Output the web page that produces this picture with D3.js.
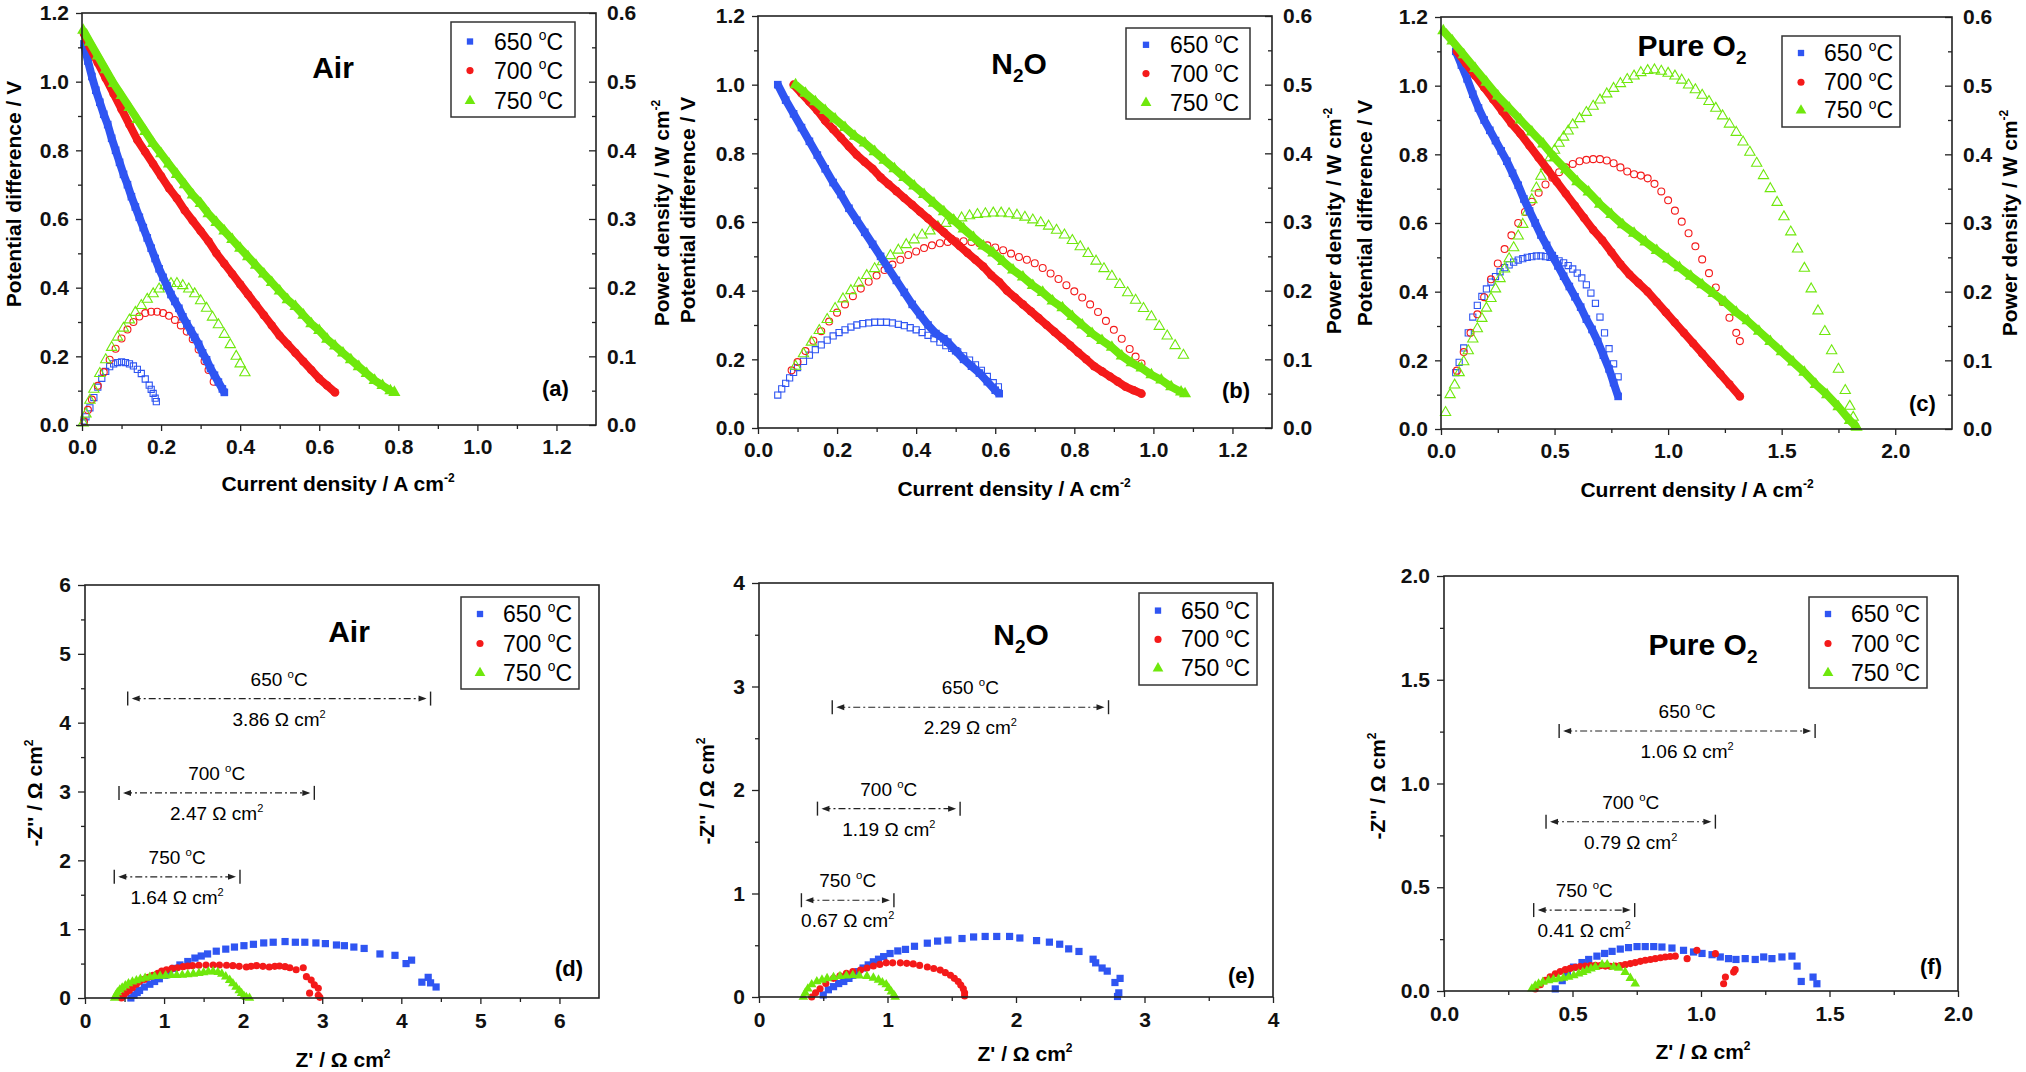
<!DOCTYPE html>
<html>
<head>
<meta charset="utf-8">
<script src="https://cdn.jsdelivr.net/npm/d3@7"></script>
<style>
  body { margin: 0; background: #fff; }
</style>
</head>
<body>
<svg id="fig" width="2026" height="1072"></svg>
<script>
// ---- data: current density (A cm-2) vs potential (V) / power density (W cm-2) ----
const temps = ['650', '700', '750'];

const airV650 = [[0.005,1.11],[0.015,1.06],[0.025,1.015],[0.035,0.975],[0.045,0.94],[0.055,0.905],[0.065,0.875],[0.075,0.835],[0.085,0.8],[0.095,0.765],[0.105,0.73],[0.115,0.7],[0.125,0.665],[0.135,0.635],[0.145,0.605],[0.155,0.575],[0.165,0.545],[0.175,0.515],[0.185,0.485],[0.195,0.455],[0.205,0.43],[0.215,0.405],[0.225,0.38],[0.235,0.36],[0.245,0.34],[0.255,0.315],[0.265,0.295],[0.275,0.275],[0.285,0.255],[0.295,0.235],[0.305,0.21],[0.315,0.19],[0.325,0.165],[0.335,0.145],[0.345,0.125],[0.355,0.105],[0.36,0.095]];
const airV700 = [[0.005,1.14],[0.02,1.1],[0.04,1.055],[0.06,1.01],[0.08,0.965],[0.1,0.92],[0.12,0.875],[0.14,0.83],[0.16,0.795],[0.18,0.76],[0.2,0.725],[0.22,0.69],[0.24,0.66],[0.26,0.625],[0.28,0.595],[0.3,0.565],[0.32,0.535],[0.34,0.5],[0.36,0.47],[0.38,0.44],[0.4,0.41],[0.42,0.38],[0.44,0.35],[0.46,0.32],[0.48,0.29],[0.5,0.26],[0.52,0.235],[0.54,0.21],[0.56,0.185],[0.58,0.16],[0.6,0.135],[0.62,0.115],[0.64,0.095]];
const airV750 = [[0.003,1.15],[0.02,1.115],[0.04,1.075],[0.06,1.035],[0.08,0.995],[0.1,0.96],[0.12,0.925],[0.14,0.89],[0.16,0.855],[0.18,0.82],[0.2,0.79],[0.22,0.76],[0.24,0.73],[0.26,0.7],[0.28,0.67],[0.3,0.645],[0.32,0.615],[0.34,0.59],[0.36,0.565],[0.38,0.54],[0.4,0.515],[0.42,0.49],[0.44,0.465],[0.46,0.44],[0.48,0.415],[0.5,0.39],[0.52,0.365],[0.54,0.345],[0.56,0.32],[0.58,0.295],[0.6,0.275],[0.62,0.25],[0.64,0.23],[0.66,0.21],[0.68,0.19],[0.7,0.17],[0.72,0.15],[0.74,0.13],[0.76,0.115],[0.78,0.1],[0.79,0.095]];
const airP650 = [[0.005,0.006],[0.01,0.012],[0.02,0.025],[0.03,0.04],[0.04,0.055],[0.05,0.068],[0.06,0.078],[0.07,0.085],[0.08,0.089],[0.09,0.091],[0.1,0.092],[0.11,0.091],[0.12,0.089],[0.13,0.086],[0.14,0.081],[0.15,0.075],[0.16,0.067],[0.17,0.058],[0.175,0.052],[0.18,0.046],[0.185,0.039],[0.188,0.034]];
const airP700 = [[0.005,0.005],[0.015,0.022],[0.025,0.037],[0.04,0.057],[0.055,0.077],[0.07,0.095],[0.085,0.111],[0.1,0.126],[0.115,0.139],[0.13,0.15],[0.145,0.158],[0.16,0.163],[0.175,0.165],[0.19,0.165],[0.205,0.163],[0.22,0.159],[0.235,0.153],[0.25,0.145],[0.265,0.136],[0.28,0.125],[0.295,0.11],[0.31,0.093],[0.32,0.08],[0.333,0.063]];
const airP750 = [[0.003,0.003],[0.01,0.016],[0.02,0.036],[0.03,0.052],[0.045,0.075],[0.06,0.095],[0.075,0.113],[0.09,0.128],[0.105,0.141],[0.12,0.153],[0.135,0.164],[0.15,0.174],[0.165,0.183],[0.18,0.191],[0.195,0.198],[0.21,0.203],[0.225,0.206],[0.24,0.206],[0.255,0.203],[0.27,0.198],[0.285,0.191],[0.3,0.181],[0.315,0.17],[0.33,0.157],[0.345,0.146],[0.36,0.132],[0.375,0.117],[0.39,0.1],[0.4,0.089],[0.412,0.076]];

const n2oV650 = [[0.05,1.0],[0.07,0.955],[0.09,0.915],[0.11,0.875],[0.13,0.835],[0.15,0.795],[0.17,0.755],[0.19,0.715],[0.21,0.68],[0.23,0.64],[0.25,0.605],[0.27,0.57],[0.29,0.535],[0.31,0.5],[0.33,0.465],[0.35,0.43],[0.37,0.395],[0.39,0.36],[0.41,0.33],[0.43,0.3],[0.45,0.275],[0.47,0.26],[0.48,0.25],[0.5,0.225],[0.52,0.2],[0.54,0.18],[0.56,0.16],[0.58,0.135],[0.6,0.11],[0.61,0.1]];
const n2oV700 = [[0.09,1.0],[0.11,0.975],[0.13,0.95],[0.15,0.925],[0.17,0.895],[0.19,0.87],[0.21,0.845],[0.23,0.82],[0.25,0.795],[0.27,0.775],[0.29,0.755],[0.31,0.73],[0.33,0.71],[0.35,0.69],[0.37,0.67],[0.39,0.65],[0.41,0.63],[0.43,0.61],[0.45,0.59],[0.47,0.57],[0.49,0.55],[0.51,0.53],[0.53,0.51],[0.55,0.49],[0.57,0.47],[0.59,0.445],[0.61,0.425],[0.63,0.4],[0.65,0.38],[0.67,0.36],[0.69,0.34],[0.71,0.32],[0.73,0.3],[0.75,0.28],[0.77,0.26],[0.79,0.24],[0.81,0.22],[0.83,0.2],[0.85,0.18],[0.87,0.165],[0.89,0.15],[0.91,0.135],[0.93,0.12],[0.95,0.11],[0.97,0.1]];
const n2oV750 = [[0.095,1.0],[0.12,0.975],[0.145,0.95],[0.17,0.925],[0.195,0.9],[0.22,0.875],[0.245,0.85],[0.27,0.83],[0.295,0.805],[0.32,0.78],[0.345,0.755],[0.37,0.73],[0.395,0.705],[0.42,0.68],[0.445,0.655],[0.47,0.63],[0.495,0.605],[0.52,0.58],[0.545,0.555],[0.57,0.53],[0.595,0.51],[0.62,0.485],[0.645,0.46],[0.67,0.44],[0.695,0.415],[0.72,0.395],[0.745,0.37],[0.77,0.35],[0.795,0.325],[0.82,0.3],[0.845,0.275],[0.87,0.255],[0.895,0.235],[0.92,0.21],[0.945,0.19],[0.97,0.175],[0.995,0.155],[1.02,0.14],[1.045,0.12],[1.07,0.105],[1.08,0.1]];
const n2oP650 = [[0.05,0.048],[0.06,0.057],[0.07,0.065],[0.08,0.073],[0.09,0.081],[0.1,0.088],[0.115,0.097],[0.13,0.106],[0.145,0.114],[0.16,0.121],[0.175,0.128],[0.19,0.134],[0.205,0.139],[0.22,0.143],[0.235,0.147],[0.25,0.15],[0.265,0.152],[0.28,0.153],[0.295,0.154],[0.31,0.154],[0.325,0.154],[0.34,0.153],[0.355,0.151],[0.37,0.149],[0.385,0.146],[0.4,0.143],[0.415,0.139],[0.43,0.135],[0.445,0.13],[0.46,0.125],[0.475,0.12],[0.49,0.116],[0.505,0.111],[0.52,0.105],[0.535,0.099],[0.55,0.092],[0.565,0.084],[0.58,0.075],[0.595,0.066],[0.608,0.06]];
const n2oP700 = [[0.085,0.084],[0.1,0.096],[0.12,0.112],[0.14,0.127],[0.16,0.141],[0.18,0.155],[0.2,0.168],[0.22,0.18],[0.24,0.192],[0.26,0.203],[0.28,0.213],[0.3,0.222],[0.32,0.23],[0.34,0.238],[0.36,0.245],[0.38,0.252],[0.4,0.257],[0.42,0.262],[0.44,0.266],[0.46,0.269],[0.48,0.271],[0.5,0.272],[0.52,0.272],[0.54,0.271],[0.56,0.269],[0.58,0.266],[0.6,0.263],[0.62,0.259],[0.64,0.254],[0.66,0.249],[0.68,0.245],[0.7,0.24],[0.72,0.233],[0.74,0.225],[0.76,0.217],[0.78,0.208],[0.8,0.199],[0.82,0.19],[0.84,0.18],[0.86,0.169],[0.88,0.156],[0.9,0.143],[0.92,0.13],[0.94,0.115],[0.955,0.104],[0.97,0.094]];
const n2oP750 = [[0.095,0.09],[0.115,0.108],[0.135,0.125],[0.155,0.142],[0.175,0.158],[0.195,0.174],[0.215,0.188],[0.235,0.2],[0.255,0.211],[0.275,0.222],[0.295,0.232],[0.315,0.242],[0.335,0.251],[0.355,0.259],[0.375,0.267],[0.395,0.274],[0.415,0.281],[0.435,0.287],[0.455,0.293],[0.475,0.298],[0.495,0.302],[0.515,0.306],[0.535,0.309],[0.555,0.311],[0.575,0.312],[0.595,0.313],[0.615,0.313],[0.635,0.312],[0.655,0.31],[0.675,0.307],[0.695,0.303],[0.715,0.299],[0.735,0.294],[0.755,0.288],[0.775,0.281],[0.795,0.273],[0.815,0.264],[0.835,0.254],[0.855,0.243],[0.875,0.232],[0.895,0.221],[0.915,0.209],[0.935,0.197],[0.955,0.186],[0.975,0.174],[0.995,0.162],[1.015,0.148],[1.035,0.134],[1.055,0.12],[1.076,0.106]];

const o2V650 = [[0.065,1.1],[0.09,1.06],[0.115,1.02],[0.14,0.975],[0.165,0.935],[0.19,0.9],[0.215,0.87],[0.24,0.84],[0.265,0.81],[0.29,0.78],[0.315,0.745],[0.34,0.71],[0.365,0.67],[0.39,0.635],[0.415,0.6],[0.44,0.565],[0.465,0.535],[0.49,0.505],[0.515,0.475],[0.54,0.445],[0.565,0.415],[0.59,0.385],[0.615,0.355],[0.64,0.32],[0.665,0.29],[0.69,0.255],[0.715,0.215],[0.74,0.175],[0.76,0.135],[0.78,0.095]];
const o2V700 = [[0.07,1.1],[0.11,1.065],[0.15,1.03],[0.19,0.995],[0.23,0.96],[0.27,0.925],[0.31,0.89],[0.35,0.86],[0.39,0.825],[0.43,0.79],[0.47,0.755],[0.51,0.72],[0.55,0.685],[0.59,0.65],[0.63,0.615],[0.67,0.58],[0.71,0.55],[0.75,0.515],[0.79,0.48],[0.83,0.45],[0.87,0.425],[0.91,0.4],[0.95,0.37],[0.99,0.34],[1.03,0.31],[1.07,0.28],[1.11,0.25],[1.15,0.22],[1.19,0.19],[1.23,0.16],[1.27,0.13],[1.316,0.095]];
const o2V750 = [[0.01,1.16],[0.05,1.13],[0.1,1.09],[0.15,1.05],[0.2,1.01],[0.25,0.97],[0.3,0.935],[0.35,0.9],[0.4,0.865],[0.45,0.83],[0.5,0.79],[0.55,0.755],[0.6,0.72],[0.65,0.69],[0.7,0.655],[0.75,0.625],[0.8,0.595],[0.85,0.57],[0.9,0.545],[0.95,0.52],[1.0,0.495],[1.05,0.47],[1.1,0.445],[1.15,0.42],[1.2,0.395],[1.25,0.37],[1.3,0.34],[1.35,0.315],[1.4,0.285],[1.45,0.255],[1.5,0.225],[1.55,0.195],[1.6,0.165],[1.65,0.13],[1.7,0.1],[1.75,0.065],[1.8,0.025],[1.83,0.005]];
const o2P650 = [[0.065,0.082],[0.08,0.097],[0.1,0.118],[0.12,0.14],[0.14,0.163],[0.16,0.18],[0.18,0.193],[0.2,0.204],[0.22,0.214],[0.24,0.222],[0.26,0.229],[0.28,0.235],[0.3,0.239],[0.32,0.243],[0.34,0.246],[0.36,0.248],[0.38,0.25],[0.4,0.251],[0.42,0.252],[0.44,0.252],[0.46,0.251],[0.48,0.25],[0.5,0.248],[0.52,0.245],[0.54,0.242],[0.56,0.238],[0.58,0.233],[0.6,0.227],[0.62,0.22],[0.64,0.21],[0.66,0.198],[0.68,0.183],[0.7,0.163],[0.72,0.14],[0.74,0.117],[0.76,0.095],[0.78,0.076]];
const o2P700 = [[0.07,0.085],[0.1,0.112],[0.13,0.14],[0.16,0.167],[0.19,0.192],[0.22,0.218],[0.25,0.241],[0.28,0.262],[0.31,0.282],[0.34,0.3],[0.37,0.316],[0.4,0.331],[0.43,0.344],[0.46,0.356],[0.49,0.366],[0.52,0.374],[0.55,0.381],[0.58,0.386],[0.61,0.39],[0.64,0.392],[0.67,0.393],[0.7,0.393],[0.73,0.391],[0.76,0.387],[0.79,0.381],[0.82,0.375],[0.85,0.371],[0.88,0.369],[0.91,0.365],[0.94,0.357],[0.97,0.346],[1.0,0.333],[1.03,0.318],[1.06,0.302],[1.09,0.285],[1.12,0.266],[1.15,0.247],[1.18,0.227],[1.21,0.206],[1.24,0.185],[1.27,0.162],[1.3,0.14],[1.316,0.128]];
const o2P750 = [[0.02,0.024],[0.04,0.05],[0.06,0.064],[0.08,0.082],[0.1,0.098],[0.12,0.114],[0.14,0.131],[0.16,0.146],[0.18,0.161],[0.2,0.176],[0.22,0.19],[0.24,0.204],[0.26,0.219],[0.28,0.233],[0.3,0.248],[0.32,0.264],[0.34,0.281],[0.36,0.298],[0.38,0.316],[0.4,0.334],[0.42,0.351],[0.44,0.368],[0.46,0.382],[0.48,0.395],[0.5,0.406],[0.52,0.416],[0.54,0.425],[0.56,0.434],[0.58,0.443],[0.61,0.452],[0.64,0.461],[0.67,0.47],[0.7,0.479],[0.73,0.488],[0.76,0.496],[0.79,0.503],[0.82,0.509],[0.85,0.514],[0.88,0.519],[0.91,0.522],[0.94,0.523],[0.97,0.521],[1.0,0.518],[1.03,0.514],[1.06,0.508],[1.09,0.501],[1.12,0.494],[1.15,0.486],[1.18,0.477],[1.21,0.467],[1.24,0.456],[1.27,0.444],[1.3,0.432],[1.33,0.418],[1.36,0.403],[1.39,0.387],[1.42,0.369],[1.45,0.35],[1.48,0.33],[1.51,0.309],[1.54,0.287],[1.57,0.262],[1.6,0.234],[1.63,0.204],[1.66,0.172],[1.69,0.142],[1.72,0.114],[1.75,0.087],[1.78,0.056],[1.8,0.033],[1.815,0.017],[1.827,0.004]];

// ---- data: impedance, Z' vs -Z'' (ohm cm2) ----
const airZ650 = [[0.58,0.0],[0.62,0.04],[0.66,0.08],[0.69,0.11],[0.75,0.16],[0.82,0.2],[0.88,0.24],[0.94,0.28],[1.01,0.33],[1.07,0.38],[1.13,0.43],[1.2,0.48],[1.3,0.53],[1.39,0.58],[1.47,0.61],[1.55,0.64],[1.66,0.68],[1.78,0.71],[1.89,0.74],[2.01,0.76],[2.13,0.78],[2.26,0.8],[2.38,0.81],[2.53,0.82],[2.66,0.81],[2.78,0.81],[2.92,0.8],[3.04,0.79],[3.18,0.77],[3.28,0.76],[3.4,0.74],[3.53,0.72],[3.73,0.64],[3.92,0.62],[4.06,0.5],[4.13,0.55],[4.26,0.23],[4.34,0.3],[4.37,0.22],[4.44,0.16]];
const airZ700 = [[0.46,0.0],[0.49,0.04],[0.52,0.08],[0.56,0.11],[0.6,0.15],[0.65,0.2],[0.69,0.24],[0.75,0.27],[0.8,0.3],[0.86,0.33],[0.92,0.36],[0.97,0.39],[1.03,0.41],[1.1,0.43],[1.17,0.44],[1.24,0.455],[1.3,0.465],[1.36,0.47],[1.44,0.475],[1.53,0.48],[1.62,0.48],[1.7,0.48],[1.79,0.475],[1.87,0.47],[1.95,0.46],[2.04,0.45],[2.1,0.46],[2.17,0.47],[2.25,0.46],[2.33,0.45],[2.4,0.46],[2.46,0.465],[2.53,0.455],[2.59,0.44],[2.67,0.41],[2.76,0.44],[2.8,0.31],[2.86,0.26],[2.9,0.19],[2.95,0.14],[2.84,0.07],[2.95,0.04],[2.97,0.01]];
const airZ750 = [[0.375,0.0],[0.39,0.04],[0.41,0.08],[0.44,0.12],[0.47,0.15],[0.51,0.18],[0.55,0.21],[0.6,0.235],[0.65,0.255],[0.7,0.275],[0.76,0.29],[0.82,0.305],[0.88,0.315],[0.95,0.32],[1.02,0.325],[1.09,0.33],[1.16,0.33],[1.23,0.335],[1.3,0.34],[1.37,0.35],[1.44,0.36],[1.5,0.37],[1.56,0.38],[1.62,0.385],[1.68,0.375],[1.73,0.35],[1.78,0.31],[1.83,0.26],[1.87,0.21],[1.91,0.16],[1.95,0.11],[1.98,0.07],[2.01,0.03],[2.04,0.01],[2.08,0.0]];
const n2oZ650 = [[0.5,0.02],[0.54,0.07],[0.58,0.1],[0.62,0.13],[0.66,0.15],[0.7,0.18],[0.73,0.21],[0.77,0.245],[0.81,0.28],[0.85,0.31],[0.89,0.34],[0.93,0.365],[0.97,0.39],[1.02,0.42],[1.08,0.445],[1.14,0.46],[1.21,0.49],[1.31,0.52],[1.39,0.54],[1.47,0.55],[1.58,0.565],[1.67,0.58],[1.76,0.585],[1.85,0.585],[1.95,0.585],[2.03,0.57],[2.16,0.545],[2.26,0.53],[2.34,0.51],[2.41,0.465],[2.49,0.44],[2.6,0.365],[2.62,0.33],[2.67,0.28],[2.71,0.25],[2.77,0.14],[2.81,0.18],[2.8,0.04],[2.79,0.005]];
const n2oZ700 = [[0.41,0.0],[0.44,0.04],[0.475,0.08],[0.52,0.13],[0.58,0.18],[0.63,0.205],[0.68,0.23],[0.73,0.245],[0.79,0.26],[0.84,0.28],[0.89,0.3],[0.94,0.315],[0.99,0.33],[1.04,0.33],[1.1,0.33],[1.15,0.325],[1.2,0.32],[1.25,0.305],[1.31,0.29],[1.36,0.275],[1.41,0.26],[1.45,0.235],[1.49,0.21],[1.52,0.18],[1.55,0.15],[1.57,0.115],[1.59,0.08],[1.6,0.04],[1.6,0.01]];
const n2oZ750 = [[0.345,0.0],[0.36,0.04],[0.38,0.08],[0.41,0.12],[0.45,0.15],[0.49,0.165],[0.53,0.18],[0.58,0.19],[0.63,0.2],[0.68,0.205],[0.73,0.21],[0.78,0.205],[0.84,0.2],[0.89,0.185],[0.93,0.165],[0.96,0.14],[0.99,0.12],[1.01,0.085],[1.03,0.05],[1.05,0.02],[1.06,0.0]];
const o2Z650 = [[0.433,0.01],[0.46,0.05],[0.48,0.085],[0.504,0.115],[0.537,0.137],[0.563,0.152],[0.595,0.168],[0.625,0.181],[0.654,0.191],[0.686,0.202],[0.718,0.209],[0.751,0.214],[0.783,0.214],[0.816,0.214],[0.848,0.212],[0.887,0.207],[0.932,0.196],[0.971,0.188],[1.004,0.181],[1.043,0.175],[1.075,0.164],[1.107,0.156],[1.136,0.152],[1.172,0.156],[1.211,0.152],[1.244,0.164],[1.276,0.156],[1.315,0.164],[1.354,0.168],[1.374,0.12],[1.39,0.046],[1.436,0.067],[1.451,0.035]];
const o2Z700 = [[0.355,0.01],[0.375,0.03],[0.394,0.051],[0.413,0.068],[0.433,0.083],[0.452,0.094],[0.472,0.103],[0.491,0.109],[0.511,0.114],[0.53,0.118],[0.55,0.12],[0.57,0.122],[0.589,0.124],[0.608,0.122],[0.628,0.12],[0.647,0.119],[0.667,0.12],[0.686,0.123],[0.705,0.127],[0.725,0.132],[0.744,0.137],[0.764,0.143],[0.783,0.148],[0.803,0.152],[0.822,0.156],[0.842,0.16],[0.861,0.164],[0.88,0.166],[0.9,0.168],[0.946,0.156],[0.984,0.196],[1.056,0.18],[1.133,0.103],[1.127,0.091],[1.095,0.067],[1.088,0.035]];
const o2Z750 = [[0.342,0.011],[0.355,0.025],[0.368,0.035],[0.385,0.043],[0.407,0.051],[0.426,0.055],[0.446,0.059],[0.465,0.063],[0.485,0.067],[0.505,0.075],[0.524,0.083],[0.54,0.091],[0.556,0.099],[0.572,0.107],[0.589,0.115],[0.615,0.127],[0.635,0.128],[0.66,0.116],[0.68,0.111],[0.705,0.091],[0.725,0.062],[0.744,0.035]];

// polarisation-resistance brackets: [Z' start, Z' end, height], with labels
const airBars = [[0.54,4.37,4.35],[0.43,2.90,2.98],[0.37,1.96,1.76]];
const n2oBars = [[0.57,2.72,2.80],[0.455,1.565,1.82],[0.33,1.05,0.935]];
const o2Bars = [[0.448,1.444,1.253],[0.397,1.056,0.816],[0.349,0.742,0.39]];
const airRp = ['3.86', '2.47', '1.64'];
const n2oRp = ['2.29', '1.19', '0.67'];
const o2Rp = ['1.06', '0.79', '0.41'];

// tick values
const vTicks = [0, 0.2, 0.4, 0.6, 0.8, 1.0, 1.2];
const vMinor = [0.1, 0.3, 0.5, 0.7, 0.9, 1.1];
const pTicks = [0, 0.1, 0.2, 0.3, 0.4, 0.5, 0.6];
const pMinor = [0.05, 0.15, 0.25, 0.35, 0.45, 0.55];
const jTicksAB = [0, 0.2, 0.4, 0.6, 0.8, 1.0, 1.2];
const jMinorAB = [0.1, 0.3, 0.5, 0.7, 0.9, 1.1];
const jTicksC = [0, 0.5, 1.0, 1.5, 2.0];
const jMinorC = [0.25, 0.75, 1.25, 1.75];
const zTicksD = [0, 1, 2, 3, 4, 5, 6];
const zMinorD = [0.5, 1.5, 2.5, 3.5, 4.5, 5.5];
const zTicksE = [0, 1, 2, 3, 4];
const zMinorE = [0.5, 1.5, 2.5, 3.5];
const zTicksF = [0, 0.5, 1.0, 1.5, 2.0];
const zMinorF = [0.25, 0.75, 1.25, 1.75];

// ---- drawing ----
const FONT = '"Liberation Sans", Arial, Helvetica, sans-serif';
const svg = d3.select('#fig').attr('font-family', FONT);
const colors = {'650': '#2f55f2', '700': '#f41a1a', '750': '#6fe80c'};
const shapes = {'650': d3.symbolSquare, '700': d3.symbolCircle, '750': d3.symbolTriangle};

function tempLabel(sel, t, fs) {
  sel.text(t + ' ');
  sel.append('tspan').attr('font-size', fs * 0.6).attr('dy', -fs * 0.42).text('o');
  sel.append('tspan').attr('dy', fs * 0.42).text('C');
}

function drawAxis(gen, pos, vals, size, pad, fmt) {
  const g = svg.append('g')
      .attr('transform', pos)
      .call(gen.tickValues(vals).tickSize(size).tickPadding(pad).tickFormat(fmt));
  g.select('.domain').remove();
  g.attr('font-family', FONT).attr('font-size', 21).attr('font-weight', 'bold');
  g.selectAll('line').attr('stroke', '#222').attr('stroke-width', 1.3);
  g.selectAll('text').attr('fill', '#111');
  return g;
}

function markers(g, data, x, y, t, size, open) {
  g.selectAll(null)
      .data(data)
      .enter()
      .append('path')
      .attr('transform', d => `translate(${x(d[0])},${y(d[1])})`)
      .attr('d', d3.symbol(shapes[t], size))
      .attr('fill', open ? 'none' : colors[t])
      .attr('stroke', open ? colors[t] : 'none')
      .attr('stroke-width', 1.1);
}

function band(g, data, x, y, t, w) {
  g.append('path')
      .datum(data)
      .attr('fill', 'none')
      .attr('stroke', colors[t])
      .attr('stroke-width', w)
      .attr('stroke-linejoin', 'round')
      .attr('d', d3.line().x(d => x(d[0])).y(d => y(d[1])));
}

function legend(l) {
  svg.append('rect')
      .attr('x', l.x0).attr('y', l.y0)
      .attr('width', l.x1 - l.x0).attr('height', l.y1 - l.y0)
      .attr('fill', '#fff').attr('stroke', '#333').attr('stroke-width', 1.5);
  temps.forEach((t, i) => {
    svg.append('path')
        .attr('transform', `translate(${l.mx},${l.rows[i]})`)
        .attr('d', d3.symbol(shapes[t], t === '750' ? 50 : 40))
        .attr('fill', colors[t]);
    svg.append('text')
        .attr('x', l.tx).attr('y', l.rows[i] + 8)
        .attr('font-size', 23)
        .call(s => tempLabel(s, t, 23));
  });
}

function nameText(x, y, name) {
  const tx = svg.append('text').attr('x', x).attr('y', y)
      .attr('text-anchor', 'middle').attr('font-size', 30).attr('font-weight', 'bold');
  if (name === 'N2O') {
    tx.append('tspan').text('N');
    tx.append('tspan').attr('font-size', 19).attr('dy', 8).text('2');
    tx.append('tspan').attr('dy', -8).text('O');
  } else if (name === 'O2') {
    tx.append('tspan').text('Pure O');
    tx.append('tspan').attr('font-size', 19).attr('dy', 8).text('2');
  } else {
    tx.text(name);
  }
}

function title(x, y, main, sup, rotate) {
  const tx = svg.append('text')
      .attr('transform', `translate(${x},${y})` + (rotate ? ' rotate(-90)' : ''))
      .attr('text-anchor', 'middle').attr('font-size', 21).attr('font-weight', 'bold')
      .text(main);
  tx.append('tspan').attr('font-size', 12).attr('dy', -9).text(sup);
}

function frame(p) {
  svg.append('rect')
      .attr('x', p.left).attr('y', p.top)
      .attr('width', p.right - p.left).attr('height', p.bottom - p.top)
      .attr('fill', 'none').attr('stroke', '#222').attr('stroke-width', 1.6);
}

function polPanel(p) {
  const x = d3.scaleLinear().domain([0, p.xMax]).range([p.left, p.right]);
  const y = d3.scaleLinear().domain([0, 1.2]).range([p.bottom, p.top]);
  const y2 = d3.scaleLinear().domain([0, 0.6]).range([p.bottom, p.top]);
  const g = svg.append('g');

  p.power.forEach((s, i) => markers(g, s, x, y2, temps[i], i === 2 ? 46 : 38, true));
  p.volt.forEach((s, i) => {
    band(g, s, x, y, temps[i], 8);
    markers(g, s, x, y, temps[i], i === 2 ? 64 : 58, false);
  });

  frame(p);
  const f1 = d3.format('.1f');
  drawAxis(d3.axisBottom(x), `translate(0,${p.bottom})`, p.xTicks, 6, 8, f1);
  drawAxis(d3.axisBottom(x), `translate(0,${p.bottom})`, p.xMinor, 4, 0, () => '');
  drawAxis(d3.axisLeft(y), `translate(${p.left},0)`, vTicks, 6, 7, f1);
  drawAxis(d3.axisLeft(y), `translate(${p.left},0)`, vMinor, 4, 0, () => '');
  drawAxis(d3.axisRight(y2), `translate(${p.right},0)`, pTicks, -7, 11, f1);
  drawAxis(d3.axisRight(y2), `translate(${p.right},0)`, pMinor, -4, 0, () => '');

  legend(p.leg);
  nameText(p.nameX, p.nameY, p.name);
  svg.append('text').attr('x', p.tagX).attr('y', p.tagY)
      .attr('font-size', 22).attr('font-weight', 'bold').text(p.tag);
  title(p.xTitle[0], p.xTitle[1], 'Current density / A cm', '-2', false);
  svg.append('text')
      .attr('transform', `translate(${p.yTitle[0]},${p.yTitle[1]}) rotate(-90)`)
      .attr('text-anchor', 'middle').attr('font-size', 21).attr('font-weight', 'bold')
      .text('Potential difference / V');
  title(p.y2Title[0], p.y2Title[1], 'Power density / W cm', '-2', true);
}

function eisPanel(p) {
  const x = d3.scaleLinear().domain([0, p.xMax]).range([p.left, p.right]);
  const y = d3.scaleLinear().domain([0, p.yMax]).range([p.bottom, p.top]);
  const g = svg.append('g');

  p.series.forEach((s, i) => markers(g, s, x, y, temps[i], i === 0 ? 52 : 40, false));

  frame(p);
  drawAxis(d3.axisBottom(x), `translate(0,${p.bottom})`, p.xTicks, 6, 9, p.fmt);
  drawAxis(d3.axisBottom(x), `translate(0,${p.bottom})`, p.xMinor, 4, 0, () => '');
  drawAxis(d3.axisLeft(y), `translate(${p.left},0)`, p.yTicks, 7, 7, p.fmt);
  drawAxis(d3.axisLeft(y), `translate(${p.left},0)`, p.yMinor, 4, 0, () => '');

  // resistance brackets
  p.bars.forEach((b, i) => {
    const x0 = x(b[0]), x1 = x(b[1]), yy = y(b[2]);
    const a = svg.append('g').attr('stroke', '#222');
    a.append('line').attr('x1', x0).attr('x2', x0).attr('y1', yy - 7).attr('y2', yy + 7).attr('stroke-width', 1.4);
    a.append('line').attr('x1', x1).attr('x2', x1).attr('y1', yy - 7).attr('y2', yy + 7).attr('stroke-width', 1.4);
    a.append('line').attr('x1', x0 + 6).attr('x2', x1 - 6).attr('y1', yy).attr('y2', yy)
        .attr('stroke-width', 1.1).attr('stroke-dasharray', '7,3,2,3');
    a.append('path').attr('fill', '#222').attr('stroke', 'none')
        .attr('d', `M${x0 + 4},${yy}L${x0 + 12},${yy - 3}L${x0 + 12},${yy + 3}Z`);
    a.append('path').attr('fill', '#222').attr('stroke', 'none')
        .attr('d', `M${x1 - 4},${yy}L${x1 - 12},${yy - 3}L${x1 - 12},${yy + 3}Z`);
    const cx = (x0 + x1) / 2;
    svg.append('text').attr('x', cx).attr('y', yy - 13).attr('text-anchor', 'middle')
        .attr('font-size', 19).call(s => tempLabel(s, temps[i], 19));
    const v = svg.append('text').attr('x', cx).attr('y', yy + 27).attr('text-anchor', 'middle')
        .attr('font-size', 19).text(p.rp[i] + ' \u03A9 cm');
    v.append('tspan').attr('font-size', 11).attr('dy', -8).text('2');
  });

  legend(p.leg);
  nameText(p.nameX, p.nameY, p.name);
  svg.append('text').attr('x', p.tagX).attr('y', p.tagY)
      .attr('font-size', 22).attr('font-weight', 'bold').text(p.tag);
  title(p.xTitle[0], p.xTitle[1], 'Z\' / \u03A9 cm', '2', false);
  title(p.yTitle[0], p.yTitle[1], '-Z\'\' / \u03A9 cm', '2', true);
}

polPanel({
  left: 82, right: 596, top: 13, bottom: 425, xMax: 1.3,
  xTicks: jTicksAB, xMinor: jMinorAB,
  volt: [airV650, airV700, airV750], power: [airP650, airP700, airP750],
  leg: {x0: 451, y0: 22, x1: 575, y1: 117, rows: [41.5, 70.6, 101], mx: 470, tx: 494},
  name: 'Air', nameX: 333, nameY: 78, tag: '(a)', tagX: 542, tagY: 396,
  xTitle: [338, 491], yTitle: [20.5, 194], y2Title: [668.5, 213]
});
polPanel({
  left: 758, right: 1272, top: 16, bottom: 428, xMax: 1.3,
  xTicks: jTicksAB, xMinor: jMinorAB,
  volt: [n2oV650, n2oV700, n2oV750], power: [n2oP650, n2oP700, n2oP750],
  leg: {x0: 1126, y0: 28, x1: 1250, y1: 119, rows: [44.8, 73.6, 102.8], mx: 1146, tx: 1170},
  name: 'N2O', nameX: 1019, nameY: 74, tag: '(b)', tagX: 1222, tagY: 398,
  xTitle: [1014, 496], yTitle: [694.5, 210], y2Title: [1340.5, 221]
});
polPanel({
  left: 1441, right: 1952, top: 17, bottom: 429, xMax: 2.25,
  xTicks: jTicksC, xMinor: jMinorC,
  volt: [o2V650, o2V700, o2V750], power: [o2P650, o2P700, o2P750],
  leg: {x0: 1782, y0: 36, x1: 1900, y1: 127, rows: [53, 82.2, 110.4], mx: 1801, tx: 1824},
  name: 'O2', nameX: 1692, nameY: 56, tag: '(c)', tagX: 1909, tagY: 411,
  xTitle: [1697, 497], yTitle: [1371.5, 213], y2Title: [2016.5, 223]
});

eisPanel({
  left: 85, right: 599, top: 585, bottom: 998, xMax: 6.5, yMax: 6,
  xTicks: zTicksD, xMinor: zMinorD, yTicks: zTicksD, yMinor: zMinorD, fmt: d3.format('d'),
  series: [airZ650, airZ700, airZ750], bars: airBars, rp: airRp,
  leg: {x0: 461, y0: 597, x1: 579, y1: 689, rows: [614, 643.5, 673], mx: 480, tx: 503},
  name: 'Air', nameX: 349, nameY: 642, tag: '(d)', tagX: 555, tagY: 976,
  xTitle: [343, 1067], yTitle: [42, 793]
});
eisPanel({
  left: 759, right: 1273, top: 583, bottom: 997, xMax: 4, yMax: 4,
  xTicks: zTicksE, xMinor: zMinorE, yTicks: zTicksE, yMinor: zMinorE, fmt: d3.format('d'),
  series: [n2oZ650, n2oZ700, n2oZ750], bars: n2oBars, rp: n2oRp,
  leg: {x0: 1139, y0: 593, x1: 1257, y1: 685, rows: [610.6, 639.4, 668.3], mx: 1158, tx: 1181},
  name: 'N2O', nameX: 1021, nameY: 645, tag: '(e)', tagX: 1228, tagY: 983,
  xTitle: [1025, 1061], yTitle: [713.5, 791]
});
eisPanel({
  left: 1444, right: 1958, top: 576, bottom: 991, xMax: 2, yMax: 2,
  xTicks: zTicksF, xMinor: zMinorF, yTicks: zTicksF, yMinor: zMinorF, fmt: d3.format('.1f'),
  series: [o2Z650, o2Z700, o2Z750], bars: o2Bars, rp: o2Rp,
  leg: {x0: 1809, y0: 597, x1: 1927, y1: 688, rows: [614, 643.5, 673], mx: 1828, tx: 1851},
  name: 'O2', nameX: 1703, nameY: 655, tag: '(f)', tagX: 1920, tagY: 974,
  xTitle: [1703, 1059], yTitle: [1384.5, 786]
});
</script>
</body>
</html>
